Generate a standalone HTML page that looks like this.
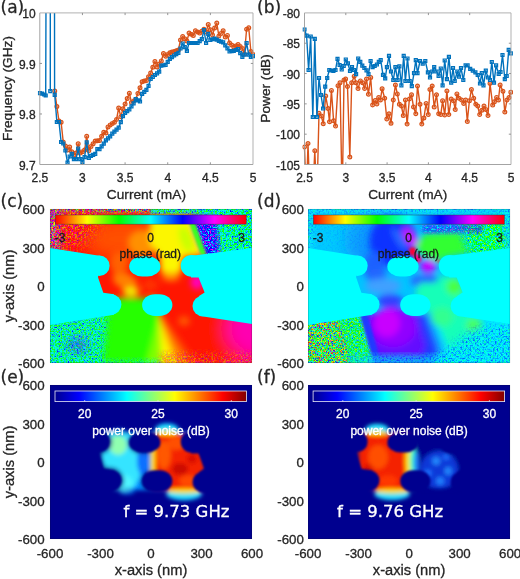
<!DOCTYPE html>
<html><head><meta charset="utf-8"><title>Figure</title>
<style>
html,body{margin:0;padding:0;background:#fff;}
body{width:520px;height:579px;overflow:hidden;}
svg{display:block;}
text{stroke-width:0.3px;}
text.a{font-family:"Liberation Sans",Arial,Helvetica,sans-serif;}
text.d{font-family:"DejaVu Sans",Verdana,"Liberation Sans",sans-serif;}
</style></head><body>
<svg width="520" height="579" viewBox="0 0 520 579"><defs>
<clipPath id="ca"><rect x="37.8" y="12.9" width="217.2" height="151.6"/></clipPath>
<clipPath id="cb"><rect x="302.5" y="12.9" width="210.5" height="151.6"/></clipPath>

<clipPath id="cp"><rect x="0" y="0" width="202" height="154"/></clipPath>
<linearGradient id="ghsv" x1="0" x2="1" y1="0" y2="0">
<stop offset="0" stop-color="#ff0000"/><stop offset="0.1667" stop-color="#ffff00"/><stop offset="0.3333" stop-color="#00ff00"/>
<stop offset="0.5" stop-color="#00ffff"/><stop offset="0.6667" stop-color="#0000ff"/><stop offset="0.8333" stop-color="#ff00ff"/><stop offset="1" stop-color="#ff0000"/>
</linearGradient>
<linearGradient id="gjet" x1="0" x2="1" y1="0" y2="0">
<stop offset="0" stop-color="#00008f"/><stop offset="0.125" stop-color="#0000ff"/><stop offset="0.375" stop-color="#00ffff"/>
<stop offset="0.625" stop-color="#ffff00"/><stop offset="0.875" stop-color="#ff0000"/><stop offset="1" stop-color="#800000"/>
</linearGradient>
<filter id="b1" x="-20%" y="-20%" width="140%" height="140%"><feGaussianBlur stdDeviation="1"/></filter>
<filter id="b15" x="-20%" y="-20%" width="140%" height="140%"><feGaussianBlur stdDeviation="1.5"/></filter>
<filter id="b2" x="-20%" y="-20%" width="140%" height="140%"><feGaussianBlur stdDeviation="2"/></filter>
<filter id="b3" x="-20%" y="-20%" width="140%" height="140%"><feGaussianBlur stdDeviation="3"/></filter>
<filter id="b4" x="-20%" y="-20%" width="140%" height="140%"><feGaussianBlur stdDeviation="4"/></filter>
<filter id="b5" x="-20%" y="-20%" width="140%" height="140%"><feGaussianBlur stdDeviation="5"/></filter>
<filter id="b8" x="-30%" y="-30%" width="160%" height="160%"><feGaussianBlur stdDeviation="8"/></filter>
<g id="geom"><g id="gL"><path d="M-2,38.7L51,47L48,68.3L53.3,83.7L64,85.2L64,105.8L-2,116.2Z"/><circle cx="49.4" cy="56.8" r="10.2"/><circle cx="61.2" cy="95.5" r="10.2"/></g><g id="gR"><path d="M204,38.8L140,47L141,68.4L148.6,68.6L154.6,83.5L149,87L150,107L204,115.3Z"/><circle cx="141.6" cy="56.8" r="10.9"/><circle cx="152.8" cy="97" r="10.3"/></g><g id="gH"><rect x="79.2" y="47.3" width="31.2" height="20.2" rx="13" ry="10.1"/><rect x="92.1" y="85.2" width="30.3" height="21.7" rx="13" ry="10.8"/></g></g>
<filter id="nzfull" x="0" y="0" width="1" height="1" filterUnits="objectBoundingBox" color-interpolation-filters="sRGB"><feTurbulence type="fractalNoise" baseFrequency="0.55" numOctaves="1" seed="2"/><feColorMatrix type="matrix" values="0.9434 0 0 0 0.0283  0.9434 0 0 0 0.0283  0.9434 0 0 0 0.0283  0 0 0 0 1"/><feComponentTransfer><feFuncR type="table" tableValues="1 1 0 0 0 1 1 1 0 0 0 1 1 1 0 0 0 1 1"/><feFuncG type="table" tableValues="0 1 1 1 0 0 0 1 1 1 0 0 0 1 1 1 0 0 0"/><feFuncB type="table" tableValues="0 0 0 1 1 1 0 0 0 1 1 1 0 0 0 1 1 1 0"/></feComponentTransfer></filter><filter id="nzcg" x="0" y="0" width="1" height="1" filterUnits="objectBoundingBox" color-interpolation-filters="sRGB"><feTurbulence type="fractalNoise" baseFrequency="0.55" numOctaves="1" seed="5"/><feColorMatrix type="matrix" values="0.2673 0 0 0 0.3497  0.2673 0 0 0 0.3497  0.2673 0 0 0 0.3497  0 0 0 0 1"/><feComponentTransfer><feFuncR type="table" tableValues="1 1 0 0 0 1 1 1 0 0 0 1 1 1 0 0 0 1 1"/><feFuncG type="table" tableValues="0 1 1 1 0 0 0 1 1 1 0 0 0 1 1 1 0 0 0"/><feFuncB type="table" tableValues="0 0 0 1 1 1 0 0 0 1 1 1 0 0 0 1 1 1 0"/></feComponentTransfer></filter><filter id="nzcb" x="0" y="0" width="1" height="1" filterUnits="objectBoundingBox" color-interpolation-filters="sRGB"><feTurbulence type="fractalNoise" baseFrequency="0.55" numOctaves="1" seed="9"/><feColorMatrix type="matrix" values="0.1195 0 0 0 0.4469  0.1195 0 0 0 0.4469  0.1195 0 0 0 0.4469  0 0 0 0 1"/><feComponentTransfer><feFuncR type="table" tableValues="1 1 0 0 0 1 1 1 0 0 0 1 1 1 0 0 0 1 1"/><feFuncG type="table" tableValues="0 1 1 1 0 0 0 1 1 1 0 0 0 1 1 1 0 0 0"/><feFuncB type="table" tableValues="0 0 0 1 1 1 0 0 0 1 1 1 0 0 0 1 1 1 0"/></feComponentTransfer></filter><filter id="nzbp" x="0" y="0" width="1" height="1" filterUnits="objectBoundingBox" color-interpolation-filters="sRGB"><feTurbulence type="fractalNoise" baseFrequency="0.55" numOctaves="1" seed="7"/><feColorMatrix type="matrix" values="0.2673 0 0 0 0.423  0.2673 0 0 0 0.423  0.2673 0 0 0 0.423  0 0 0 0 1"/><feComponentTransfer><feFuncR type="table" tableValues="1 1 0 0 0 1 1 1 0 0 0 1 1 1 0 0 0 1 1"/><feFuncG type="table" tableValues="0 1 1 1 0 0 0 1 1 1 0 0 0 1 1 1 0 0 0"/><feFuncB type="table" tableValues="0 0 0 1 1 1 0 0 0 1 1 1 0 0 0 1 1 1 0"/></feComponentTransfer></filter><filter id="nzyg" x="0" y="0" width="1" height="1" filterUnits="objectBoundingBox" color-interpolation-filters="sRGB"><feTurbulence type="fractalNoise" baseFrequency="0.55" numOctaves="1" seed="13"/><feColorMatrix type="matrix" values="0.283 0 0 0 0.3252  0.283 0 0 0 0.3252  0.283 0 0 0 0.3252  0 0 0 0 1"/><feComponentTransfer><feFuncR type="table" tableValues="1 1 0 0 0 1 1 1 0 0 0 1 1 1 0 0 0 1 1"/><feFuncG type="table" tableValues="0 1 1 1 0 0 0 1 1 1 0 0 0 1 1 1 0 0 0"/><feFuncB type="table" tableValues="0 0 0 1 1 1 0 0 0 1 1 1 0 0 0 1 1 1 0"/></feComponentTransfer></filter><filter id="nzred" x="0" y="0" width="1" height="1" filterUnits="objectBoundingBox" color-interpolation-filters="sRGB"><feTurbulence type="fractalNoise" baseFrequency="0.55" numOctaves="1" seed="4"/><feColorMatrix type="matrix" values="0.2201 0 0 0 0.2233  0.2201 0 0 0 0.2233  0.2201 0 0 0 0.2233  0 0 0 0 1"/><feComponentTransfer><feFuncR type="table" tableValues="1 1 0 0 0 1 1 1 0 0 0 1 1 1 0 0 0 1 1"/><feFuncG type="table" tableValues="0 1 1 1 0 0 0 1 1 1 0 0 0 1 1 1 0 0 0"/><feFuncB type="table" tableValues="0 0 0 1 1 1 0 0 0 1 1 1 0 0 0 1 1 1 0"/></feComponentTransfer></filter><filter id="nzredw" x="0" y="0" width="1" height="1" filterUnits="objectBoundingBox" color-interpolation-filters="sRGB"><feTurbulence type="fractalNoise" baseFrequency="0.55" numOctaves="1" seed="4"/><feColorMatrix type="matrix" values="0.4403 0 0 0 0.1132  0.4403 0 0 0 0.1132  0.4403 0 0 0 0.1132  0 0 0 0 1"/><feComponentTransfer><feFuncR type="table" tableValues="1 1 0 0 0 1 1 1 0 0 0 1 1 1 0 0 0 1 1"/><feFuncG type="table" tableValues="0 1 1 1 0 0 0 1 1 1 0 0 0 1 1 1 0 0 0"/><feFuncB type="table" tableValues="0 0 0 1 1 1 0 0 0 1 1 1 0 0 0 1 1 1 0"/></feComponentTransfer></filter><filter id="nzgw" x="0" y="0" width="1" height="1" filterUnits="objectBoundingBox" color-interpolation-filters="sRGB"><feTurbulence type="fractalNoise" baseFrequency="0.55" numOctaves="1" seed="21"/><feColorMatrix type="matrix" values="0.6289 0 0 0 0.1389  0.6289 0 0 0 0.1389  0.6289 0 0 0 0.1389  0 0 0 0 1"/><feComponentTransfer><feFuncR type="table" tableValues="1 1 0 0 0 1 1 1 0 0 0 1 1 1 0 0 0 1 1"/><feFuncG type="table" tableValues="0 1 1 1 0 0 0 1 1 1 0 0 0 1 1 1 0 0 0"/><feFuncB type="table" tableValues="0 0 0 1 1 1 0 0 0 1 1 1 0 0 0 1 1 1 0"/></feComponentTransfer></filter><filter id="nzpw" x="0" y="0" width="1" height="1" filterUnits="objectBoundingBox" color-interpolation-filters="sRGB"><feTurbulence type="fractalNoise" baseFrequency="0.55" numOctaves="1" seed="17"/><feColorMatrix type="matrix" values="0.6918 0 0 0 0.2474  0.6918 0 0 0 0.2474  0.6918 0 0 0 0.2474  0 0 0 0 1"/><feComponentTransfer><feFuncR type="table" tableValues="1 1 0 0 0 1 1 1 0 0 0 1 1 1 0 0 0 1 1"/><feFuncG type="table" tableValues="0 1 1 1 0 0 0 1 1 1 0 0 0 1 1 1 0 0 0"/><feFuncB type="table" tableValues="0 0 0 1 1 1 0 0 0 1 1 1 0 0 0 1 1 1 0"/></feComponentTransfer></filter>
</defs>
<rect x="39.8" y="12.9" width="213.2" height="151.6" fill="#fff" stroke="none"/>
<g clip-path="url(#ca)"><path d="M54.72,91 L56.86,106.5 L58.99,121 L61.12,122.2 L63.25,142 L65.38,146 L67.52,150 L69.65,147.1 L71.78,151.8 L73.91,155 L76.04,153 L78.18,143.7 L80.31,153 L82.44,151.8 L84.57,150 L86.7,136.3 L88.84,150.5 L90.97,146.4 L93.1,143.7 L95.23,141 L97.36,140.7 L99.5,140.4 L101.63,136.35 L103.76,132.3 L105.89,133 L108.02,126.9 L110.16,124.9 L112.29,123.55 L114.42,122.2 L116.55,119.5 L118.68,108 L120.82,116.8 L122.95,108.7 L125.08,104 L127.21,98.6 L129.34,93.2 L131.48,102.6 L133.61,100.9 L135.74,99.2 L137.87,93.5 L140,87.8 L142.14,81.7 L144.27,81.05 L146.4,80.4 L148.53,76.7 L150.66,73 L152.8,67.25 L154.93,61.5 L157.06,67 L159.19,63.95 L161.32,60.9 L163.46,53.5 L165.59,56.2 L167.72,54.5 L169.85,52.8 L171.98,52.1 L174.12,51.4 L176.25,50.75 L178.38,50.1 L180.51,40 L182.64,36.5 L184.78,38.75 L186.91,41 L189.04,33.1 L191.17,34.25 L193.3,35.4 L195.44,30.8 L197.57,31.95 L199.7,33.1 L201.83,31.15 L203.96,29.2 L206.1,32 L208.23,24.6 L210.36,29.8 L212.49,35 L214.62,28 L216.76,23.1 L218.89,36 L221.02,33.4 L223.15,30.8 L225.28,37 L227.42,35.4 L229.55,43 L231.68,45 L233.81,47 L235.94,45.8 L238.08,44.6 L240.21,46.55 L242.34,48.5 L244.47,54 L246.6,29.2 L248.74,27.7 L250.87,51.5 L253,54.6" fill="none" stroke="#D95319" stroke-width="1.4" stroke-linejoin="round"/><path d="M52.82,91a1.9,1.9 0 1,0 3.8,0a1.9,1.9 0 1,0 -3.8,0M54.96,106.5a1.9,1.9 0 1,0 3.8,0a1.9,1.9 0 1,0 -3.8,0M57.09,121a1.9,1.9 0 1,0 3.8,0a1.9,1.9 0 1,0 -3.8,0M59.22,122.2a1.9,1.9 0 1,0 3.8,0a1.9,1.9 0 1,0 -3.8,0M61.35,142a1.9,1.9 0 1,0 3.8,0a1.9,1.9 0 1,0 -3.8,0M63.48,146a1.9,1.9 0 1,0 3.8,0a1.9,1.9 0 1,0 -3.8,0M65.62,150a1.9,1.9 0 1,0 3.8,0a1.9,1.9 0 1,0 -3.8,0M67.75,147.1a1.9,1.9 0 1,0 3.8,0a1.9,1.9 0 1,0 -3.8,0M69.88,151.8a1.9,1.9 0 1,0 3.8,0a1.9,1.9 0 1,0 -3.8,0M72.01,155a1.9,1.9 0 1,0 3.8,0a1.9,1.9 0 1,0 -3.8,0M74.14,153a1.9,1.9 0 1,0 3.8,0a1.9,1.9 0 1,0 -3.8,0M76.28,143.7a1.9,1.9 0 1,0 3.8,0a1.9,1.9 0 1,0 -3.8,0M78.41,153a1.9,1.9 0 1,0 3.8,0a1.9,1.9 0 1,0 -3.8,0M80.54,151.8a1.9,1.9 0 1,0 3.8,0a1.9,1.9 0 1,0 -3.8,0M82.67,150a1.9,1.9 0 1,0 3.8,0a1.9,1.9 0 1,0 -3.8,0M84.8,136.3a1.9,1.9 0 1,0 3.8,0a1.9,1.9 0 1,0 -3.8,0M86.94,150.5a1.9,1.9 0 1,0 3.8,0a1.9,1.9 0 1,0 -3.8,0M89.07,146.4a1.9,1.9 0 1,0 3.8,0a1.9,1.9 0 1,0 -3.8,0M91.2,143.7a1.9,1.9 0 1,0 3.8,0a1.9,1.9 0 1,0 -3.8,0M93.33,141a1.9,1.9 0 1,0 3.8,0a1.9,1.9 0 1,0 -3.8,0M95.46,140.7a1.9,1.9 0 1,0 3.8,0a1.9,1.9 0 1,0 -3.8,0M97.6,140.4a1.9,1.9 0 1,0 3.8,0a1.9,1.9 0 1,0 -3.8,0M99.73,136.35a1.9,1.9 0 1,0 3.8,0a1.9,1.9 0 1,0 -3.8,0M101.86,132.3a1.9,1.9 0 1,0 3.8,0a1.9,1.9 0 1,0 -3.8,0M103.99,133a1.9,1.9 0 1,0 3.8,0a1.9,1.9 0 1,0 -3.8,0M106.12,126.9a1.9,1.9 0 1,0 3.8,0a1.9,1.9 0 1,0 -3.8,0M108.26,124.9a1.9,1.9 0 1,0 3.8,0a1.9,1.9 0 1,0 -3.8,0M110.39,123.55a1.9,1.9 0 1,0 3.8,0a1.9,1.9 0 1,0 -3.8,0M112.52,122.2a1.9,1.9 0 1,0 3.8,0a1.9,1.9 0 1,0 -3.8,0M114.65,119.5a1.9,1.9 0 1,0 3.8,0a1.9,1.9 0 1,0 -3.8,0M116.78,108a1.9,1.9 0 1,0 3.8,0a1.9,1.9 0 1,0 -3.8,0M118.92,116.8a1.9,1.9 0 1,0 3.8,0a1.9,1.9 0 1,0 -3.8,0M121.05,108.7a1.9,1.9 0 1,0 3.8,0a1.9,1.9 0 1,0 -3.8,0M123.18,104a1.9,1.9 0 1,0 3.8,0a1.9,1.9 0 1,0 -3.8,0M125.31,98.6a1.9,1.9 0 1,0 3.8,0a1.9,1.9 0 1,0 -3.8,0M127.44,93.2a1.9,1.9 0 1,0 3.8,0a1.9,1.9 0 1,0 -3.8,0M129.58,102.6a1.9,1.9 0 1,0 3.8,0a1.9,1.9 0 1,0 -3.8,0M131.71,100.9a1.9,1.9 0 1,0 3.8,0a1.9,1.9 0 1,0 -3.8,0M133.84,99.2a1.9,1.9 0 1,0 3.8,0a1.9,1.9 0 1,0 -3.8,0M135.97,93.5a1.9,1.9 0 1,0 3.8,0a1.9,1.9 0 1,0 -3.8,0M138.1,87.8a1.9,1.9 0 1,0 3.8,0a1.9,1.9 0 1,0 -3.8,0M140.24,81.7a1.9,1.9 0 1,0 3.8,0a1.9,1.9 0 1,0 -3.8,0M142.37,81.05a1.9,1.9 0 1,0 3.8,0a1.9,1.9 0 1,0 -3.8,0M144.5,80.4a1.9,1.9 0 1,0 3.8,0a1.9,1.9 0 1,0 -3.8,0M146.63,76.7a1.9,1.9 0 1,0 3.8,0a1.9,1.9 0 1,0 -3.8,0M148.76,73a1.9,1.9 0 1,0 3.8,0a1.9,1.9 0 1,0 -3.8,0M150.9,67.25a1.9,1.9 0 1,0 3.8,0a1.9,1.9 0 1,0 -3.8,0M153.03,61.5a1.9,1.9 0 1,0 3.8,0a1.9,1.9 0 1,0 -3.8,0M155.16,67a1.9,1.9 0 1,0 3.8,0a1.9,1.9 0 1,0 -3.8,0M157.29,63.95a1.9,1.9 0 1,0 3.8,0a1.9,1.9 0 1,0 -3.8,0M159.42,60.9a1.9,1.9 0 1,0 3.8,0a1.9,1.9 0 1,0 -3.8,0M161.56,53.5a1.9,1.9 0 1,0 3.8,0a1.9,1.9 0 1,0 -3.8,0M163.69,56.2a1.9,1.9 0 1,0 3.8,0a1.9,1.9 0 1,0 -3.8,0M165.82,54.5a1.9,1.9 0 1,0 3.8,0a1.9,1.9 0 1,0 -3.8,0M167.95,52.8a1.9,1.9 0 1,0 3.8,0a1.9,1.9 0 1,0 -3.8,0M170.08,52.1a1.9,1.9 0 1,0 3.8,0a1.9,1.9 0 1,0 -3.8,0M172.22,51.4a1.9,1.9 0 1,0 3.8,0a1.9,1.9 0 1,0 -3.8,0M174.35,50.75a1.9,1.9 0 1,0 3.8,0a1.9,1.9 0 1,0 -3.8,0M176.48,50.1a1.9,1.9 0 1,0 3.8,0a1.9,1.9 0 1,0 -3.8,0M178.61,40a1.9,1.9 0 1,0 3.8,0a1.9,1.9 0 1,0 -3.8,0M180.74,36.5a1.9,1.9 0 1,0 3.8,0a1.9,1.9 0 1,0 -3.8,0M182.88,38.75a1.9,1.9 0 1,0 3.8,0a1.9,1.9 0 1,0 -3.8,0M185.01,41a1.9,1.9 0 1,0 3.8,0a1.9,1.9 0 1,0 -3.8,0M187.14,33.1a1.9,1.9 0 1,0 3.8,0a1.9,1.9 0 1,0 -3.8,0M189.27,34.25a1.9,1.9 0 1,0 3.8,0a1.9,1.9 0 1,0 -3.8,0M191.4,35.4a1.9,1.9 0 1,0 3.8,0a1.9,1.9 0 1,0 -3.8,0M193.54,30.8a1.9,1.9 0 1,0 3.8,0a1.9,1.9 0 1,0 -3.8,0M195.67,31.95a1.9,1.9 0 1,0 3.8,0a1.9,1.9 0 1,0 -3.8,0M197.8,33.1a1.9,1.9 0 1,0 3.8,0a1.9,1.9 0 1,0 -3.8,0M199.93,31.15a1.9,1.9 0 1,0 3.8,0a1.9,1.9 0 1,0 -3.8,0M202.06,29.2a1.9,1.9 0 1,0 3.8,0a1.9,1.9 0 1,0 -3.8,0M204.2,32a1.9,1.9 0 1,0 3.8,0a1.9,1.9 0 1,0 -3.8,0M206.33,24.6a1.9,1.9 0 1,0 3.8,0a1.9,1.9 0 1,0 -3.8,0M208.46,29.8a1.9,1.9 0 1,0 3.8,0a1.9,1.9 0 1,0 -3.8,0M210.59,35a1.9,1.9 0 1,0 3.8,0a1.9,1.9 0 1,0 -3.8,0M212.72,28a1.9,1.9 0 1,0 3.8,0a1.9,1.9 0 1,0 -3.8,0M214.86,23.1a1.9,1.9 0 1,0 3.8,0a1.9,1.9 0 1,0 -3.8,0M216.99,36a1.9,1.9 0 1,0 3.8,0a1.9,1.9 0 1,0 -3.8,0M219.12,33.4a1.9,1.9 0 1,0 3.8,0a1.9,1.9 0 1,0 -3.8,0M221.25,30.8a1.9,1.9 0 1,0 3.8,0a1.9,1.9 0 1,0 -3.8,0M223.38,37a1.9,1.9 0 1,0 3.8,0a1.9,1.9 0 1,0 -3.8,0M225.52,35.4a1.9,1.9 0 1,0 3.8,0a1.9,1.9 0 1,0 -3.8,0M227.65,43a1.9,1.9 0 1,0 3.8,0a1.9,1.9 0 1,0 -3.8,0M229.78,45a1.9,1.9 0 1,0 3.8,0a1.9,1.9 0 1,0 -3.8,0M231.91,47a1.9,1.9 0 1,0 3.8,0a1.9,1.9 0 1,0 -3.8,0M234.04,45.8a1.9,1.9 0 1,0 3.8,0a1.9,1.9 0 1,0 -3.8,0M236.18,44.6a1.9,1.9 0 1,0 3.8,0a1.9,1.9 0 1,0 -3.8,0M238.31,46.55a1.9,1.9 0 1,0 3.8,0a1.9,1.9 0 1,0 -3.8,0M240.44,48.5a1.9,1.9 0 1,0 3.8,0a1.9,1.9 0 1,0 -3.8,0M242.57,54a1.9,1.9 0 1,0 3.8,0a1.9,1.9 0 1,0 -3.8,0M244.7,29.2a1.9,1.9 0 1,0 3.8,0a1.9,1.9 0 1,0 -3.8,0M246.84,27.7a1.9,1.9 0 1,0 3.8,0a1.9,1.9 0 1,0 -3.8,0M248.97,51.5a1.9,1.9 0 1,0 3.8,0a1.9,1.9 0 1,0 -3.8,0M251.1,54.6a1.9,1.9 0 1,0 3.8,0a1.9,1.9 0 1,0 -3.8,0" fill="#D95319" fill-opacity="0.3" stroke="#D95319" stroke-width="1.2"/></g>
<g clip-path="url(#ca)"><path d="M54.72,94.8 L56.86,122 L58.99,122 L61.12,142 L63.25,143.5 L65.38,150.5 L67.52,162.6 L69.65,156.5 L71.78,153.8 L73.91,159.2 L76.04,159.2 L78.18,148.5 L80.31,159.2 L82.44,161.9 L84.57,157.2 L86.7,142.4 L88.84,157.9 L90.97,155.9 L93.1,154.85 L95.23,153.8 L97.36,149.1 L99.5,149.1 L101.63,146.4 L103.76,143.7 L105.89,140.4 L108.02,138.35 L110.16,136.3 L112.29,133.6 L114.42,131.6 L116.55,129.6 L118.68,127.6 L120.82,122.2 L122.95,116.2 L125.08,112.8 L127.21,111.05 L129.34,109.3 L131.48,106.3 L133.61,103.3 L135.74,99.2 L137.87,100.35 L140,101.5 L142.14,93.8 L144.27,91.8 L146.4,89.8 L148.53,85.8 L150.66,79 L152.8,77 L154.93,75 L157.06,73.3 L159.19,71.6 L161.32,65.6 L163.46,65.25 L165.59,64.9 L167.72,61.85 L169.85,58.8 L171.98,57.15 L174.12,55.5 L176.25,54.15 L178.38,52.8 L180.51,48.5 L182.64,43.5 L184.78,47.15 L186.91,50.8 L189.04,43 L191.17,43 L193.3,43 L195.44,43 L197.57,43 L199.7,41.1 L201.83,39.2 L203.96,30 L206.1,43 L208.23,33.8 L210.36,40 L212.49,39.25 L214.62,38.5 L216.76,39.65 L218.89,40.8 L221.02,41.55 L223.15,42.3 L225.28,45.4 L227.42,48.45 L229.55,51.5 L231.68,51.15 L233.81,50.8 L235.94,50 L238.08,49.2 L240.21,53.05 L242.34,56.9 L244.47,54.6 L246.6,43 L248.74,54.6 L250.87,56.9 L253,56.2" fill="none" stroke="#0072BD" stroke-width="1.4" stroke-linejoin="round"/><path d="M39.8,93.2L42,93.7L44.2,94.5L45.7,95.5L46,0M50.3,0V91.2M54.5,0L54.6,94.8" fill="none" stroke="#0072BD" stroke-width="1.4"/><path d="M38.3,91.7h3v3h-3zM40.5,92.2h3v3h-3zM42.7,93h3v3h-3zM44.2,94h3v3h-3zM48.8,89.7h3v3h-3z" fill="#0072BD" fill-opacity="0.3" stroke="#0072BD" stroke-width="1.2"/><path d="M53.22,93.3h3v3h-3zM55.36,120.5h3v3h-3zM57.49,120.5h3v3h-3zM59.62,140.5h3v3h-3zM61.75,142h3v3h-3zM63.88,149h3v3h-3zM66.02,161.1h3v3h-3zM68.15,155h3v3h-3zM70.28,152.3h3v3h-3zM72.41,157.7h3v3h-3zM74.54,157.7h3v3h-3zM76.68,147h3v3h-3zM78.81,157.7h3v3h-3zM80.94,160.4h3v3h-3zM83.07,155.7h3v3h-3zM85.2,140.9h3v3h-3zM87.34,156.4h3v3h-3zM89.47,154.4h3v3h-3zM91.6,153.35h3v3h-3zM93.73,152.3h3v3h-3zM95.86,147.6h3v3h-3zM98,147.6h3v3h-3zM100.13,144.9h3v3h-3zM102.26,142.2h3v3h-3zM104.39,138.9h3v3h-3zM106.52,136.85h3v3h-3zM108.66,134.8h3v3h-3zM110.79,132.1h3v3h-3zM112.92,130.1h3v3h-3zM115.05,128.1h3v3h-3zM117.18,126.1h3v3h-3zM119.32,120.7h3v3h-3zM121.45,114.7h3v3h-3zM123.58,111.3h3v3h-3zM125.71,109.55h3v3h-3zM127.84,107.8h3v3h-3zM129.98,104.8h3v3h-3zM132.11,101.8h3v3h-3zM134.24,97.7h3v3h-3zM136.37,98.85h3v3h-3zM138.5,100h3v3h-3zM140.64,92.3h3v3h-3zM142.77,90.3h3v3h-3zM144.9,88.3h3v3h-3zM147.03,84.3h3v3h-3zM149.16,77.5h3v3h-3zM151.3,75.5h3v3h-3zM153.43,73.5h3v3h-3zM155.56,71.8h3v3h-3zM157.69,70.1h3v3h-3zM159.82,64.1h3v3h-3zM161.96,63.75h3v3h-3zM164.09,63.4h3v3h-3zM166.22,60.35h3v3h-3zM168.35,57.3h3v3h-3zM170.48,55.65h3v3h-3zM172.62,54h3v3h-3zM174.75,52.65h3v3h-3zM176.88,51.3h3v3h-3zM179.01,47h3v3h-3zM181.14,42h3v3h-3zM183.28,45.65h3v3h-3zM185.41,49.3h3v3h-3zM187.54,41.5h3v3h-3zM189.67,41.5h3v3h-3zM191.8,41.5h3v3h-3zM193.94,41.5h3v3h-3zM196.07,41.5h3v3h-3zM198.2,39.6h3v3h-3zM200.33,37.7h3v3h-3zM202.46,28.5h3v3h-3zM204.6,41.5h3v3h-3zM206.73,32.3h3v3h-3zM208.86,38.5h3v3h-3zM210.99,37.75h3v3h-3zM213.12,37h3v3h-3zM215.26,38.15h3v3h-3zM217.39,39.3h3v3h-3zM219.52,40.05h3v3h-3zM221.65,40.8h3v3h-3zM223.78,43.9h3v3h-3zM225.92,46.95h3v3h-3zM228.05,50h3v3h-3zM230.18,49.65h3v3h-3zM232.31,49.3h3v3h-3zM234.44,48.5h3v3h-3zM236.58,47.7h3v3h-3zM238.71,51.55h3v3h-3zM240.84,55.4h3v3h-3zM242.97,53.1h3v3h-3zM245.1,41.5h3v3h-3zM247.24,53.1h3v3h-3zM249.37,55.4h3v3h-3zM251.5,54.7h3v3h-3z" fill="#0072BD" fill-opacity="0.3" stroke="#0072BD" stroke-width="1.2"/></g>
<path d="M39.8,12.9V164.5H253" fill="none" stroke="#9a9a9a" stroke-width="0.9"/><path d="M39.8,12.9H253V164.5" fill="none" stroke="#a8a8a8" stroke-width="0.9"/><path d="M82.44,164.5v-2.2M82.44,12.9v2.2M125.08,164.5v-2.2M125.08,12.9v2.2M167.72,164.5v-2.2M167.72,12.9v2.2M210.36,164.5v-2.2M210.36,12.9v2.2M39.8,63.43h2.2M253,63.43h-2.2M39.8,113.97h2.2M253,113.97h-2.2" fill="none" stroke="#8a8a8a" stroke-width="0.9"/>
<text x="39.8" y="182.3" font-size="12" text-anchor="middle" fill="#262626" stroke="#262626" class="a">2.5</text>
<text x="82.44" y="182.3" font-size="12" text-anchor="middle" fill="#262626" stroke="#262626" class="a">3</text>
<text x="125.08" y="182.3" font-size="12" text-anchor="middle" fill="#262626" stroke="#262626" class="a">3.5</text>
<text x="167.72" y="182.3" font-size="12" text-anchor="middle" fill="#262626" stroke="#262626" class="a">4</text>
<text x="210.36" y="182.3" font-size="12" text-anchor="middle" fill="#262626" stroke="#262626" class="a">4.5</text>
<text x="253" y="182.3" font-size="12" text-anchor="middle" fill="#262626" stroke="#262626" class="a">5</text>
<text x="35.6" y="18.1" font-size="12" text-anchor="end" fill="#262626" stroke="#262626" class="a">10</text>
<text x="35.6" y="68.63" font-size="12" text-anchor="end" fill="#262626" stroke="#262626" class="a">9.9</text>
<text x="35.6" y="119.17" font-size="12" text-anchor="end" fill="#262626" stroke="#262626" class="a">9.8</text>
<text x="35.6" y="169.7" font-size="12" text-anchor="end" fill="#262626" stroke="#262626" class="a">9.7</text>
<text x="146.4" y="199.4" font-size="13.7" text-anchor="middle" fill="#262626" stroke="#262626" class="a">Current (mA)</text>
<text x="12.4" y="88.5" font-size="13.7" text-anchor="middle" fill="#262626" stroke="#262626" class="a" transform="rotate(-90 12.4 88.5)">Frequency (GHz)</text>
<text x="0.5" y="12.9" font-size="17" text-anchor="start" fill="#262626" stroke="#262626" class="d">(a)</text>
<rect x="304.5" y="12.9" width="206.5" height="151.6" fill="#fff" stroke="none"/>
<g clip-path="url(#cb)"><path d="M304.5,147 L306.3,200 L308,143.6 L310,200 L312.5,200 L314.8,150.8 L316.9,200 L319,113.2 L321.3,116 L323.2,123.7 L325.7,96.1 L328,108.5 L329.5,121.8 L331.4,90.4 L333.6,120.8 L335.5,126.1 L338,85.7 L340,82.8 L342.2,200 L344,80 L345.6,79 L347.5,86.6 L349.8,157 L351.7,82.8 L354.2,76.2 L356,82.8 L358,88.5 L360.4,80.9 L362.7,82.8 L364.6,88.5 L366.5,79 L368.4,94.2 L370.7,77.5 L372.6,105 L375.2,100.5 L376.9,104 L378.7,97.6 L380.4,100 L382.1,88.7 L384.7,98.2 L386.8,119 L389,113.8 L391,123.3 L393.3,100 L395.4,85 L397.3,93.9 L399.4,104.3 L401.4,106 L403.3,115.5 L405.4,100 L407.1,124.1 L409.4,99 L411.5,94.8 L413.5,106.9 L415.8,113.8 L417.5,86.1 L420,104.3 L421.8,124.1 L423.9,118 L426.1,103.4 L428.2,114.6 L429.9,89.6 L432.2,86.1 L434.2,106.9 L436.5,94.8 L438.7,113.8 L440.8,114.6 L442.6,100.8 L444.7,115 L446.9,91 L448.8,114.6 L451.2,99 L453.5,100.8 L455.2,109.4 L456.9,93.9 L459,98.2 L461.6,100 L463.7,103.4 L465.6,100 L467.3,121.5 L469.4,100.8 L471.4,89.6 L473.7,98.2 L475.8,104.3 L477.7,106 L479.7,114.6 L481.8,110.3 L484,106 L485.8,109.4 L488,115.5 L490,83.5 L492.7,105.1 L494.4,101.7 L496.6,97.4 L498.4,100 L500.1,85 L503,91.3 L504.8,112 L507,100 L509,97.4 L510.8,92.2" fill="none" stroke="#D95319" stroke-width="1.4" stroke-linejoin="round"/><path d="M302.6,147a1.9,1.9 0 1,0 3.8,0a1.9,1.9 0 1,0 -3.8,0M304.4,200a1.9,1.9 0 1,0 3.8,0a1.9,1.9 0 1,0 -3.8,0M306.1,143.6a1.9,1.9 0 1,0 3.8,0a1.9,1.9 0 1,0 -3.8,0M308.1,200a1.9,1.9 0 1,0 3.8,0a1.9,1.9 0 1,0 -3.8,0M310.6,200a1.9,1.9 0 1,0 3.8,0a1.9,1.9 0 1,0 -3.8,0M312.9,150.8a1.9,1.9 0 1,0 3.8,0a1.9,1.9 0 1,0 -3.8,0M315,200a1.9,1.9 0 1,0 3.8,0a1.9,1.9 0 1,0 -3.8,0M317.1,113.2a1.9,1.9 0 1,0 3.8,0a1.9,1.9 0 1,0 -3.8,0M319.4,116a1.9,1.9 0 1,0 3.8,0a1.9,1.9 0 1,0 -3.8,0M321.3,123.7a1.9,1.9 0 1,0 3.8,0a1.9,1.9 0 1,0 -3.8,0M323.8,96.1a1.9,1.9 0 1,0 3.8,0a1.9,1.9 0 1,0 -3.8,0M326.1,108.5a1.9,1.9 0 1,0 3.8,0a1.9,1.9 0 1,0 -3.8,0M327.6,121.8a1.9,1.9 0 1,0 3.8,0a1.9,1.9 0 1,0 -3.8,0M329.5,90.4a1.9,1.9 0 1,0 3.8,0a1.9,1.9 0 1,0 -3.8,0M331.7,120.8a1.9,1.9 0 1,0 3.8,0a1.9,1.9 0 1,0 -3.8,0M333.6,126.1a1.9,1.9 0 1,0 3.8,0a1.9,1.9 0 1,0 -3.8,0M336.1,85.7a1.9,1.9 0 1,0 3.8,0a1.9,1.9 0 1,0 -3.8,0M338.1,82.8a1.9,1.9 0 1,0 3.8,0a1.9,1.9 0 1,0 -3.8,0M340.3,200a1.9,1.9 0 1,0 3.8,0a1.9,1.9 0 1,0 -3.8,0M342.1,80a1.9,1.9 0 1,0 3.8,0a1.9,1.9 0 1,0 -3.8,0M343.7,79a1.9,1.9 0 1,0 3.8,0a1.9,1.9 0 1,0 -3.8,0M345.6,86.6a1.9,1.9 0 1,0 3.8,0a1.9,1.9 0 1,0 -3.8,0M347.9,157a1.9,1.9 0 1,0 3.8,0a1.9,1.9 0 1,0 -3.8,0M349.8,82.8a1.9,1.9 0 1,0 3.8,0a1.9,1.9 0 1,0 -3.8,0M352.3,76.2a1.9,1.9 0 1,0 3.8,0a1.9,1.9 0 1,0 -3.8,0M354.1,82.8a1.9,1.9 0 1,0 3.8,0a1.9,1.9 0 1,0 -3.8,0M356.1,88.5a1.9,1.9 0 1,0 3.8,0a1.9,1.9 0 1,0 -3.8,0M358.5,80.9a1.9,1.9 0 1,0 3.8,0a1.9,1.9 0 1,0 -3.8,0M360.8,82.8a1.9,1.9 0 1,0 3.8,0a1.9,1.9 0 1,0 -3.8,0M362.7,88.5a1.9,1.9 0 1,0 3.8,0a1.9,1.9 0 1,0 -3.8,0M364.6,79a1.9,1.9 0 1,0 3.8,0a1.9,1.9 0 1,0 -3.8,0M366.5,94.2a1.9,1.9 0 1,0 3.8,0a1.9,1.9 0 1,0 -3.8,0M368.8,77.5a1.9,1.9 0 1,0 3.8,0a1.9,1.9 0 1,0 -3.8,0M370.7,105a1.9,1.9 0 1,0 3.8,0a1.9,1.9 0 1,0 -3.8,0M373.3,100.5a1.9,1.9 0 1,0 3.8,0a1.9,1.9 0 1,0 -3.8,0M375,104a1.9,1.9 0 1,0 3.8,0a1.9,1.9 0 1,0 -3.8,0M376.8,97.6a1.9,1.9 0 1,0 3.8,0a1.9,1.9 0 1,0 -3.8,0M378.5,100a1.9,1.9 0 1,0 3.8,0a1.9,1.9 0 1,0 -3.8,0M380.2,88.7a1.9,1.9 0 1,0 3.8,0a1.9,1.9 0 1,0 -3.8,0M382.8,98.2a1.9,1.9 0 1,0 3.8,0a1.9,1.9 0 1,0 -3.8,0M384.9,119a1.9,1.9 0 1,0 3.8,0a1.9,1.9 0 1,0 -3.8,0M387.1,113.8a1.9,1.9 0 1,0 3.8,0a1.9,1.9 0 1,0 -3.8,0M389.1,123.3a1.9,1.9 0 1,0 3.8,0a1.9,1.9 0 1,0 -3.8,0M391.4,100a1.9,1.9 0 1,0 3.8,0a1.9,1.9 0 1,0 -3.8,0M393.5,85a1.9,1.9 0 1,0 3.8,0a1.9,1.9 0 1,0 -3.8,0M395.4,93.9a1.9,1.9 0 1,0 3.8,0a1.9,1.9 0 1,0 -3.8,0M397.5,104.3a1.9,1.9 0 1,0 3.8,0a1.9,1.9 0 1,0 -3.8,0M399.5,106a1.9,1.9 0 1,0 3.8,0a1.9,1.9 0 1,0 -3.8,0M401.4,115.5a1.9,1.9 0 1,0 3.8,0a1.9,1.9 0 1,0 -3.8,0M403.5,100a1.9,1.9 0 1,0 3.8,0a1.9,1.9 0 1,0 -3.8,0M405.2,124.1a1.9,1.9 0 1,0 3.8,0a1.9,1.9 0 1,0 -3.8,0M407.5,99a1.9,1.9 0 1,0 3.8,0a1.9,1.9 0 1,0 -3.8,0M409.6,94.8a1.9,1.9 0 1,0 3.8,0a1.9,1.9 0 1,0 -3.8,0M411.6,106.9a1.9,1.9 0 1,0 3.8,0a1.9,1.9 0 1,0 -3.8,0M413.9,113.8a1.9,1.9 0 1,0 3.8,0a1.9,1.9 0 1,0 -3.8,0M415.6,86.1a1.9,1.9 0 1,0 3.8,0a1.9,1.9 0 1,0 -3.8,0M418.1,104.3a1.9,1.9 0 1,0 3.8,0a1.9,1.9 0 1,0 -3.8,0M419.9,124.1a1.9,1.9 0 1,0 3.8,0a1.9,1.9 0 1,0 -3.8,0M422,118a1.9,1.9 0 1,0 3.8,0a1.9,1.9 0 1,0 -3.8,0M424.2,103.4a1.9,1.9 0 1,0 3.8,0a1.9,1.9 0 1,0 -3.8,0M426.3,114.6a1.9,1.9 0 1,0 3.8,0a1.9,1.9 0 1,0 -3.8,0M428,89.6a1.9,1.9 0 1,0 3.8,0a1.9,1.9 0 1,0 -3.8,0M430.3,86.1a1.9,1.9 0 1,0 3.8,0a1.9,1.9 0 1,0 -3.8,0M432.3,106.9a1.9,1.9 0 1,0 3.8,0a1.9,1.9 0 1,0 -3.8,0M434.6,94.8a1.9,1.9 0 1,0 3.8,0a1.9,1.9 0 1,0 -3.8,0M436.8,113.8a1.9,1.9 0 1,0 3.8,0a1.9,1.9 0 1,0 -3.8,0M438.9,114.6a1.9,1.9 0 1,0 3.8,0a1.9,1.9 0 1,0 -3.8,0M440.7,100.8a1.9,1.9 0 1,0 3.8,0a1.9,1.9 0 1,0 -3.8,0M442.8,115a1.9,1.9 0 1,0 3.8,0a1.9,1.9 0 1,0 -3.8,0M445,91a1.9,1.9 0 1,0 3.8,0a1.9,1.9 0 1,0 -3.8,0M446.9,114.6a1.9,1.9 0 1,0 3.8,0a1.9,1.9 0 1,0 -3.8,0M449.3,99a1.9,1.9 0 1,0 3.8,0a1.9,1.9 0 1,0 -3.8,0M451.6,100.8a1.9,1.9 0 1,0 3.8,0a1.9,1.9 0 1,0 -3.8,0M453.3,109.4a1.9,1.9 0 1,0 3.8,0a1.9,1.9 0 1,0 -3.8,0M455,93.9a1.9,1.9 0 1,0 3.8,0a1.9,1.9 0 1,0 -3.8,0M457.1,98.2a1.9,1.9 0 1,0 3.8,0a1.9,1.9 0 1,0 -3.8,0M459.7,100a1.9,1.9 0 1,0 3.8,0a1.9,1.9 0 1,0 -3.8,0M461.8,103.4a1.9,1.9 0 1,0 3.8,0a1.9,1.9 0 1,0 -3.8,0M463.7,100a1.9,1.9 0 1,0 3.8,0a1.9,1.9 0 1,0 -3.8,0M465.4,121.5a1.9,1.9 0 1,0 3.8,0a1.9,1.9 0 1,0 -3.8,0M467.5,100.8a1.9,1.9 0 1,0 3.8,0a1.9,1.9 0 1,0 -3.8,0M469.5,89.6a1.9,1.9 0 1,0 3.8,0a1.9,1.9 0 1,0 -3.8,0M471.8,98.2a1.9,1.9 0 1,0 3.8,0a1.9,1.9 0 1,0 -3.8,0M473.9,104.3a1.9,1.9 0 1,0 3.8,0a1.9,1.9 0 1,0 -3.8,0M475.8,106a1.9,1.9 0 1,0 3.8,0a1.9,1.9 0 1,0 -3.8,0M477.8,114.6a1.9,1.9 0 1,0 3.8,0a1.9,1.9 0 1,0 -3.8,0M479.9,110.3a1.9,1.9 0 1,0 3.8,0a1.9,1.9 0 1,0 -3.8,0M482.1,106a1.9,1.9 0 1,0 3.8,0a1.9,1.9 0 1,0 -3.8,0M483.9,109.4a1.9,1.9 0 1,0 3.8,0a1.9,1.9 0 1,0 -3.8,0M486.1,115.5a1.9,1.9 0 1,0 3.8,0a1.9,1.9 0 1,0 -3.8,0M488.1,83.5a1.9,1.9 0 1,0 3.8,0a1.9,1.9 0 1,0 -3.8,0M490.8,105.1a1.9,1.9 0 1,0 3.8,0a1.9,1.9 0 1,0 -3.8,0M492.5,101.7a1.9,1.9 0 1,0 3.8,0a1.9,1.9 0 1,0 -3.8,0M494.7,97.4a1.9,1.9 0 1,0 3.8,0a1.9,1.9 0 1,0 -3.8,0M496.5,100a1.9,1.9 0 1,0 3.8,0a1.9,1.9 0 1,0 -3.8,0M498.2,85a1.9,1.9 0 1,0 3.8,0a1.9,1.9 0 1,0 -3.8,0M501.1,91.3a1.9,1.9 0 1,0 3.8,0a1.9,1.9 0 1,0 -3.8,0M502.9,112a1.9,1.9 0 1,0 3.8,0a1.9,1.9 0 1,0 -3.8,0M505.1,100a1.9,1.9 0 1,0 3.8,0a1.9,1.9 0 1,0 -3.8,0M507.1,97.4a1.9,1.9 0 1,0 3.8,0a1.9,1.9 0 1,0 -3.8,0M508.9,92.2a1.9,1.9 0 1,0 3.8,0a1.9,1.9 0 1,0 -3.8,0" fill="#D95319" fill-opacity="0.3" stroke="#D95319" stroke-width="1.2"/></g>
<g clip-path="url(#cb)"><path d="M304.5,29.5 L306.6,35.7 L308.6,70 L310.7,36.5 L312.8,117 L314.8,38.8 L316.9,117 L319,78 L321,95 L323.1,108.5 L325.2,86.6 L327.2,78 L329.3,70 L331.3,70.5 L333.4,71 L335.5,70 L337.5,58.8 L339.6,65 L341.7,69.5 L343.7,66 L345.8,59.5 L347.9,63.4 L350,71 L352,67 L354,70 L356.1,74.2 L358.2,58.5 L360.3,61.8 L362.3,65.7 L364.4,68 L366.5,70.3 L368.5,74.2 L370.6,61 L372.6,67.2 L374.7,66 L376.9,64.5 L378.8,61.8 L380.7,60.2 L383,74.9 L385.2,78.4 L386.9,67.1 L389,55.9 L391,71.5 L393.3,80 L395.4,67.1 L397.6,80 L399.4,66.3 L401.4,85.3 L403.7,55.9 L405.4,81 L407.5,58.5 L409.7,81 L411.8,86.1 L414,73.2 L415.8,60.2 L417.5,73.2 L420,61 L422.7,63.7 L425.3,61 L427.9,72.3 L430,77.5 L432.2,71.5 L434.2,67.1 L436.5,71.5 L438.6,75.8 L440.8,68.5 L442.6,85.3 L444.7,60.5 L446.9,79.2 L448.9,56.8 L451.2,82.7 L453,68 L454.7,81 L457.3,71.5 L459,76.6 L461,68 L463.3,80 L465.6,65.4 L467.6,65.4 L470.2,68.9 L472.8,70.6 L475.4,72.3 L477.7,75 L480,83.5 L481.8,73.2 L483.5,85.3 L485.8,70.6 L488,77.5 L490,80 L491.8,62 L494,82.7 L496.1,65.4 L498.7,74 L500.5,72 L502.5,55 L504.8,79.2 L506.7,76 L508.7,49.9 L510.8,53.3" fill="none" stroke="#0072BD" stroke-width="1.4" stroke-linejoin="round"/><path d="M303,28h3v3h-3zM305.1,34.2h3v3h-3zM307.1,68.5h3v3h-3zM309.2,35h3v3h-3zM311.3,115.5h3v3h-3zM313.3,37.3h3v3h-3zM315.4,115.5h3v3h-3zM317.5,76.5h3v3h-3zM319.5,93.5h3v3h-3zM321.6,107h3v3h-3zM323.7,85.1h3v3h-3zM325.7,76.5h3v3h-3zM327.8,68.5h3v3h-3zM329.8,69h3v3h-3zM331.9,69.5h3v3h-3zM334,68.5h3v3h-3zM336,57.3h3v3h-3zM338.1,63.5h3v3h-3zM340.2,68h3v3h-3zM342.2,64.5h3v3h-3zM344.3,58h3v3h-3zM346.4,61.9h3v3h-3zM348.5,69.5h3v3h-3zM350.5,65.5h3v3h-3zM352.5,68.5h3v3h-3zM354.6,72.7h3v3h-3zM356.7,57h3v3h-3zM358.8,60.3h3v3h-3zM360.8,64.2h3v3h-3zM362.9,66.5h3v3h-3zM365,68.8h3v3h-3zM367,72.7h3v3h-3zM369.1,59.5h3v3h-3zM371.1,65.7h3v3h-3zM373.2,64.5h3v3h-3zM375.4,63h3v3h-3zM377.3,60.3h3v3h-3zM379.2,58.7h3v3h-3zM381.5,73.4h3v3h-3zM383.7,76.9h3v3h-3zM385.4,65.6h3v3h-3zM387.5,54.4h3v3h-3zM389.5,70h3v3h-3zM391.8,78.5h3v3h-3zM393.9,65.6h3v3h-3zM396.1,78.5h3v3h-3zM397.9,64.8h3v3h-3zM399.9,83.8h3v3h-3zM402.2,54.4h3v3h-3zM403.9,79.5h3v3h-3zM406,57h3v3h-3zM408.2,79.5h3v3h-3zM410.3,84.6h3v3h-3zM412.5,71.7h3v3h-3zM414.3,58.7h3v3h-3zM416,71.7h3v3h-3zM418.5,59.5h3v3h-3zM421.2,62.2h3v3h-3zM423.8,59.5h3v3h-3zM426.4,70.8h3v3h-3zM428.5,76h3v3h-3zM430.7,70h3v3h-3zM432.7,65.6h3v3h-3zM435,70h3v3h-3zM437.1,74.3h3v3h-3zM439.3,67h3v3h-3zM441.1,83.8h3v3h-3zM443.2,59h3v3h-3zM445.4,77.7h3v3h-3zM447.4,55.3h3v3h-3zM449.7,81.2h3v3h-3zM451.5,66.5h3v3h-3zM453.2,79.5h3v3h-3zM455.8,70h3v3h-3zM457.5,75.1h3v3h-3zM459.5,66.5h3v3h-3zM461.8,78.5h3v3h-3zM464.1,63.9h3v3h-3zM466.1,63.9h3v3h-3zM468.7,67.4h3v3h-3zM471.3,69.1h3v3h-3zM473.9,70.8h3v3h-3zM476.2,73.5h3v3h-3zM478.5,82h3v3h-3zM480.3,71.7h3v3h-3zM482,83.8h3v3h-3zM484.3,69.1h3v3h-3zM486.5,76h3v3h-3zM488.5,78.5h3v3h-3zM490.3,60.5h3v3h-3zM492.5,81.2h3v3h-3zM494.6,63.9h3v3h-3zM497.2,72.5h3v3h-3zM499,70.5h3v3h-3zM501,53.5h3v3h-3zM503.3,77.7h3v3h-3zM505.2,74.5h3v3h-3zM507.2,48.4h3v3h-3zM509.3,51.8h3v3h-3z" fill="#0072BD" fill-opacity="0.3" stroke="#0072BD" stroke-width="1.2"/></g>
<path d="M304.5,12.9V164.5H511" fill="none" stroke="#9a9a9a" stroke-width="0.9"/><path d="M304.5,12.9H511V164.5" fill="none" stroke="#a8a8a8" stroke-width="0.9"/><path d="M345.8,164.5v-2.2M345.8,12.9v2.2M387.1,164.5v-2.2M387.1,12.9v2.2M428.4,164.5v-2.2M428.4,12.9v2.2M469.7,164.5v-2.2M469.7,12.9v2.2M304.5,43.22h2.2M511,43.22h-2.2M304.5,73.54h2.2M511,73.54h-2.2M304.5,103.86h2.2M511,103.86h-2.2M304.5,134.18h2.2M511,134.18h-2.2" fill="none" stroke="#8a8a8a" stroke-width="0.9"/>
<text x="304.5" y="182.3" font-size="12" text-anchor="middle" fill="#262626" stroke="#262626" class="a">2.5</text>
<text x="345.8" y="182.3" font-size="12" text-anchor="middle" fill="#262626" stroke="#262626" class="a">3</text>
<text x="387.1" y="182.3" font-size="12" text-anchor="middle" fill="#262626" stroke="#262626" class="a">3.5</text>
<text x="428.4" y="182.3" font-size="12" text-anchor="middle" fill="#262626" stroke="#262626" class="a">4</text>
<text x="469.7" y="182.3" font-size="12" text-anchor="middle" fill="#262626" stroke="#262626" class="a">4.5</text>
<text x="511" y="182.3" font-size="12" text-anchor="middle" fill="#262626" stroke="#262626" class="a">5</text>
<text x="300" y="18.1" font-size="12" text-anchor="end" fill="#262626" stroke="#262626" class="a">-80</text>
<text x="300" y="48.42" font-size="12" text-anchor="end" fill="#262626" stroke="#262626" class="a">-85</text>
<text x="300" y="78.74" font-size="12" text-anchor="end" fill="#262626" stroke="#262626" class="a">-90</text>
<text x="300" y="109.06" font-size="12" text-anchor="end" fill="#262626" stroke="#262626" class="a">-95</text>
<text x="300" y="139.38" font-size="12" text-anchor="end" fill="#262626" stroke="#262626" class="a">-100</text>
<text x="300" y="169.7" font-size="12" text-anchor="end" fill="#262626" stroke="#262626" class="a">-105</text>
<text x="407.75" y="199.4" font-size="13.7" text-anchor="middle" fill="#262626" stroke="#262626" class="a">Current (mA)</text>
<text x="270" y="88.5" font-size="13.7" text-anchor="middle" fill="#262626" stroke="#262626" class="a" transform="rotate(-90 270 88.5)">Power (dB)</text>
<text x="257" y="12.9" font-size="17" text-anchor="start" fill="#262626" stroke="#262626" class="d">(b)</text>
<g transform="translate(50,209)"><g clip-path="url(#cp)"><g filter="url(#b8)"><path d="M-10,-10H212V164H-10Z" fill="#ff1800"/><ellipse cx="72" cy="30" rx="36" ry="18" fill="#ff5000"/><ellipse cx="220" cy="120" rx="44" ry="32" fill="#ff00b0"/><ellipse cx="215" cy="160" rx="30" ry="14" fill="#ff1060"/></g><g filter="url(#b3)"><ellipse cx="92" cy="34" rx="14" ry="13" fill="#ff9000"/><path d="M100,6L139,6L153,46L133,48L131,64L111,64L110,48L100,34Z" fill="#fcf600"/><ellipse cx="136" cy="30" rx="6" ry="14" fill="#c8ff00" transform="rotate(-20 136 30)"/><path d="M146,-10H212V50H160Z" fill="#20e8b0"/><path d="M141,6L168,6L172,46L156,46Z" fill="#3040ff"/><ellipse cx="121" cy="68" rx="9" ry="4" fill="#ff9000"/><path d="M60,89L108,89L110,106L100,164H-10V118Z" fill="#28ff00"/><path d="M109,105L94,164L113,164Z" fill="#80ff00"/><path d="M109,104L112,164L129,164Z" fill="#fff400"/><path d="M110,104L129,164L141,164Z" fill="#ff9000"/><path d="M112,104L141,164L153,164Z" fill="#ff4800"/><ellipse cx="134" cy="112" rx="6" ry="5" fill="#ff5800"/><ellipse cx="75" cy="72" rx="13" ry="8" fill="#ff8000" transform="rotate(25 75 72)"/><ellipse cx="81" cy="83" rx="8" ry="4.5" fill="#f0f000"/><ellipse cx="147" cy="73" rx="6.5" ry="7.5" fill="#ff00c0"/><ellipse cx="69" cy="54" rx="9" ry="12" fill="#ff6000"/><ellipse cx="100" cy="76" rx="8" ry="6" fill="#ff3000"/></g><g filter="url(#b1)"><path d="M137,8L143,8L157,45L151,46Z" fill="#38ff20"/></g><mask id="mc1" maskUnits="userSpaceOnUse" x="-10" y="-10" width="222" height="174"><g filter="url(#b15)" fill="#fff"><path d="M143,6L168,6L173,46L157,46Z"/></g></mask><g mask="url(#mc1)" opacity="1"><rect x="0" y="0" width="202" height="154" filter="url(#nzbp)"/></g><mask id="mc2" maskUnits="userSpaceOnUse" x="-10" y="-10" width="222" height="174"><g filter="url(#b2)" fill="#fff"><path d="M166,0H210V46L170,48Z"/></g></mask><g mask="url(#mc2)" opacity="1"><rect x="0" y="0" width="202" height="154" filter="url(#nzcg)"/></g><mask id="mc2b" maskUnits="userSpaceOnUse" x="-10" y="-10" width="222" height="174"><g filter="url(#b1)" fill="#fff"><path d="M100,-4H210V5H100Z"/></g></mask><g mask="url(#mc2b)" opacity="0.9"><rect x="0" y="0" width="202" height="154" filter="url(#nzcg)"/></g><mask id="mc3" maskUnits="userSpaceOnUse" x="-10" y="-10" width="222" height="174"><g filter="url(#b3)" fill="#fff"><path d="M-8,-8H11V42H-8Z"/></g></mask><g mask="url(#mc3)" opacity="1"><rect x="0" y="0" width="202" height="154" filter="url(#nzpw)"/></g><mask id="mc3t" maskUnits="userSpaceOnUse" x="-10" y="-10" width="222" height="174"><g filter="url(#b2)" fill="#fff"><path d="M-8,-8H100V3H-8Z"/></g></mask><g mask="url(#mc3t)" opacity="1"><rect x="0" y="0" width="202" height="154" filter="url(#nzfull)"/></g><mask id="mc3b" maskUnits="userSpaceOnUse" x="-10" y="-10" width="222" height="174"><g filter="url(#b8)" fill="#fff"><path d="M-8,-8H60L40,24L24,44H-8Z"/></g></mask><g mask="url(#mc3b)" opacity="0.55"><rect x="0" y="0" width="202" height="154" filter="url(#nzredw)"/></g><g filter="url(#b4)"><path d="M-8,112L52,106L46,164H-8Z" fill="#20d8b0"/></g><mask id="mc4" maskUnits="userSpaceOnUse" x="-10" y="-10" width="222" height="174"><g filter="url(#b3)" fill="#fff"><path d="M-8,112L58,104L52,164H-8Z"/></g></mask><g mask="url(#mc4)" opacity="0.85"><rect x="0" y="0" width="202" height="154" filter="url(#nzcg)"/></g><mask id="mc4b" maskUnits="userSpaceOnUse" x="-10" y="-10" width="222" height="174"><g filter="url(#b5)" fill="#fff"><ellipse cx="28" cy="136" rx="10" ry="8"/></g></mask><g mask="url(#mc4b)" opacity="0.5"><rect x="0" y="0" width="202" height="154" filter="url(#nzbp)"/></g><mask id="mc5" maskUnits="userSpaceOnUse" x="-10" y="-10" width="222" height="174"><g filter="url(#b2)" fill="#fff"><path d="M40,150H110V160H40Z"/></g></mask><g mask="url(#mc5)" opacity="0.45"><rect x="0" y="0" width="202" height="154" filter="url(#nzcg)"/></g><mask id="mc6" maskUnits="userSpaceOnUse" x="-10" y="-10" width="222" height="174"><g filter="url(#b3)" fill="#fff"><path d="M110,144H210V160H110Z"/></g></mask><g mask="url(#mc6)" opacity="0.35"><rect x="0" y="0" width="202" height="154" filter="url(#nzredw)"/></g><use href="#geom" fill="#00ffff"/></g><rect x="0.25" y="0.25" width="201.5" height="153.5" fill="none" stroke="#101020" stroke-opacity="0.3" stroke-width="0.6"/><rect x="5.3" y="6" width="191" height="9.2" fill="url(#ghsv)" stroke="#3a2a2a" stroke-opacity="0.55" stroke-width="0.7"/><text x="10" y="32.6" font-size="12" text-anchor="middle" fill="#1a1a1a" stroke="#1a1a1a" class="a">-3</text><text x="100.5" y="32.6" font-size="12" text-anchor="middle" fill="#1a1a1a" stroke="#1a1a1a" class="a">0</text><text x="191.5" y="32.6" font-size="12" text-anchor="middle" fill="#1a1a1a" stroke="#1a1a1a" class="a">3</text><text x="100.3" y="48.6" font-size="12" text-anchor="middle" fill="#1a1a1a" stroke="#1a1a1a" class="a">phase (rad)</text></g><text x="44.6" y="214.2" font-size="13.3" text-anchor="end" fill="#262626" stroke="#262626" class="a">600</text><text x="44.6" y="252.7" font-size="13.3" text-anchor="end" fill="#262626" stroke="#262626" class="a">300</text><text x="44.6" y="291.2" font-size="13.3" text-anchor="end" fill="#262626" stroke="#262626" class="a">0</text><text x="44.6" y="329.7" font-size="13.3" text-anchor="end" fill="#262626" stroke="#262626" class="a">-300</text><text x="44.6" y="368.2" font-size="13.3" text-anchor="end" fill="#262626" stroke="#262626" class="a">-600</text><text x="13.9" y="286" font-size="14.7" text-anchor="middle" fill="#262626" stroke="#262626" class="a" transform="rotate(-90 13.9 286)">y-axis (nm)</text><text x="0.5" y="206.7" font-size="17" text-anchor="start" fill="#262626" stroke="#262626" class="d">(c)</text>
<g transform="translate(308.1,209)"><g clip-path="url(#cp)"><g filter="url(#b8)"><path d="M-10,-10H212V164H-10Z" fill="#00c4ff"/><path d="M118,96H212V164H118Z" fill="#00e4ff"/><ellipse cx="70" cy="30" rx="34" ry="30" fill="#0c90ff"/></g><g filter="url(#b3)"><ellipse cx="85" cy="32" rx="24" ry="26" fill="#0c30ff"/><ellipse cx="66" cy="58" rx="10" ry="16" fill="#1c60ff"/><ellipse cx="91" cy="30" rx="3" ry="13" fill="#2c70ff" transform="rotate(-30 91 30)"/><ellipse cx="103" cy="29" rx="5.5" ry="12" fill="#c818ff" transform="rotate(-35 103 29)"/><ellipse cx="75" cy="77" rx="18" ry="8" fill="#40a0ff"/><ellipse cx="69" cy="65" rx="10" ry="5" fill="#2468ff"/><ellipse cx="82" cy="92" rx="13" ry="7" fill="#3040ff"/><path d="M62,136L126,136L134,164H64Z" fill="#2030ff"/><path d="M52,104L114,104L120,128L113,148L65,148Z" fill="#6410ff"/><ellipse cx="85" cy="118" rx="23" ry="20" fill="#9000ff"/><ellipse cx="79" cy="114" rx="13" ry="14" fill="#c800ff"/><path d="M108,68L150,66L158,84L150,100L172,108L178,136L137,144L121,110L108,100Z" fill="#18ffb8"/><path d="M108,103L116,103L134,154L122,154Z" fill="#2038ff"/><path d="M116,103L121,103L141,154L134,154Z" fill="#0c90ff"/><path d="M121,103L125,103L147,154L141,154Z" fill="#00e0ff"/><ellipse cx="146" cy="78" rx="8" ry="8" fill="#48ff40"/><ellipse cx="134" cy="108" rx="11" ry="10" fill="#30ff90"/><ellipse cx="166" cy="117" rx="8" ry="7" fill="#50ff50"/><path d="M107,38L116,25L152,23L162,44L139,48L128,52L114,46Z" fill="#30ff30"/><ellipse cx="120" cy="57" rx="8.5" ry="7" fill="#c800ff"/><ellipse cx="120" cy="70" rx="11" ry="4" fill="#2050ff"/><ellipse cx="108" cy="72" rx="5" ry="6" fill="#2868ff"/></g><g filter="url(#b15)"><ellipse cx="104.5" cy="42.5" rx="3.6" ry="4.2" fill="#ff0030"/><ellipse cx="109.5" cy="49.5" rx="3.8" ry="4.5" fill="#ff0080" transform="rotate(-35 109.5 49.5)"/><circle cx="130.5" cy="52" r="1.6" fill="#ff2020"/></g><g filter="url(#b3)"><path d="M-8,108L48,101L62,164H-8Z" fill="#58d070"/></g><g filter="url(#b1)"><path d="M52,106L59,105L72,150L65,150Z" fill="#2438ff"/></g><mask id="md1" maskUnits="userSpaceOnUse" x="-10" y="-10" width="222" height="174"><g filter="url(#b3)" fill="#fff"><path d="M-8,108L46,101L58,164H-8Z"/></g></mask><g mask="url(#md1)" opacity="0.8"><rect x="0" y="0" width="202" height="154" filter="url(#nzgw)"/></g><mask id="md1b" maskUnits="userSpaceOnUse" x="-10" y="-10" width="222" height="174"><g filter="url(#b15)" fill="#fff"><path d="M30,108L51,105L64,150L44,160Z"/></g></mask><g mask="url(#md1b)" opacity="0.85"><rect x="0" y="0" width="202" height="154" filter="url(#nzyg)"/></g><mask id="md1c" maskUnits="userSpaceOnUse" x="-10" y="-10" width="222" height="174"><g filter="url(#b3)" fill="#fff"><path d="M40,146H140V160H40Z"/></g></mask><g mask="url(#md1c)" opacity="0.6"><rect x="0" y="0" width="202" height="154" filter="url(#nzcb)"/></g><mask id="md2" maskUnits="userSpaceOnUse" x="-10" y="-10" width="222" height="174"><g filter="url(#b4)" fill="#fff"><path d="M152,14L200,8L204,46L162,48Z"/></g></mask><g mask="url(#md2)" opacity="1"><rect x="0" y="0" width="202" height="154" filter="url(#nzyg)"/></g><mask id="md2b" maskUnits="userSpaceOnUse" x="-10" y="-10" width="222" height="174"><g filter="url(#b3)" fill="#fff"><path d="M192,0H210V44H200Z"/></g></mask><g mask="url(#md2b)" opacity="0.9"><rect x="0" y="0" width="202" height="154" filter="url(#nzcb)"/></g><mask id="md2c" maskUnits="userSpaceOnUse" x="-10" y="-10" width="222" height="174"><g filter="url(#b2)" fill="#fff"><path d="M114,15H175V24H114Z"/></g></mask><g mask="url(#md2c)" opacity="0.55"><rect x="0" y="0" width="202" height="154" filter="url(#nzbp)"/></g><mask id="md3" maskUnits="userSpaceOnUse" x="-10" y="-10" width="222" height="174"><g filter="url(#b5)" fill="#fff"><path d="M165,120L210,114V164H125V150Z"/></g></mask><g mask="url(#md3)" opacity="0.9"><rect x="0" y="0" width="202" height="154" filter="url(#nzcb)"/></g><mask id="md4" maskUnits="userSpaceOnUse" x="-10" y="-10" width="222" height="174"><g filter="url(#b3)" fill="#fff"><path d="M-8,-8H210V3H-8ZM-8,-8H4V40H-8Z"/></g></mask><g mask="url(#md4)" opacity="0.8"><rect x="0" y="0" width="202" height="154" filter="url(#nzcb)"/></g><mask id="md5" maskUnits="userSpaceOnUse" x="-10" y="-10" width="222" height="174"><g filter="url(#b8)" fill="#fff"><path d="M-8,-8H60V40H-8Z"/></g></mask><g mask="url(#md5)" opacity="0.15"><rect x="0" y="0" width="202" height="154" filter="url(#nzcb)"/></g><use href="#geom" fill="#00ffff"/></g><rect x="0.25" y="0.25" width="201.5" height="153.5" fill="none" stroke="#101020" stroke-opacity="0.3" stroke-width="0.6"/><rect x="5.3" y="6" width="191" height="9.2" fill="url(#ghsv)" stroke="#3a2a2a" stroke-opacity="0.55" stroke-width="0.7"/><text x="10" y="32.6" font-size="12" text-anchor="middle" fill="#1a1a1a" stroke="#1a1a1a" class="a">-3</text><text x="100.5" y="32.6" font-size="12" text-anchor="middle" fill="#1a1a1a" stroke="#1a1a1a" class="a">0</text><text x="191.5" y="32.6" font-size="12" text-anchor="middle" fill="#1a1a1a" stroke="#1a1a1a" class="a">3</text><text x="100.3" y="48.6" font-size="12" text-anchor="middle" fill="#1a1a1a" stroke="#1a1a1a" class="a">phase (rad)</text></g><text x="303.9" y="214.2" font-size="13.3" text-anchor="end" fill="#262626" stroke="#262626" class="a">600</text><text x="303.9" y="252.7" font-size="13.3" text-anchor="end" fill="#262626" stroke="#262626" class="a">300</text><text x="303.9" y="291.2" font-size="13.3" text-anchor="end" fill="#262626" stroke="#262626" class="a">0</text><text x="303.9" y="329.7" font-size="13.3" text-anchor="end" fill="#262626" stroke="#262626" class="a">-300</text><text x="303.9" y="368.2" font-size="13.3" text-anchor="end" fill="#262626" stroke="#262626" class="a">-600</text><text x="257" y="206.7" font-size="17" text-anchor="start" fill="#262626" stroke="#262626" class="d">(d)</text>
<g transform="translate(50,385)"><g clip-path="url(#cp)"><rect x="-2" y="-2" width="206" height="158" fill="#00008f"/><mask id="me" maskUnits="userSpaceOnUse" x="-10" y="-10" width="222" height="174"><g filter="url(#b2)"><path d="M49,47.5H147L155,84L151,105H64L51,84Z" fill="#fff"/><ellipse cx="117" cy="45" rx="12" ry="7" fill="#fff"/><ellipse cx="134" cy="108.5" rx="18" ry="7" fill="#fff"/><ellipse cx="77" cy="106" rx="8" ry="3.5" fill="#bbb"/><ellipse cx="69" cy="47" rx="8" ry="3" fill="#aaa"/></g><g filter="url(#b1)"><use href="#geom" fill="#000"/></g></mask><g mask="url(#me)"><g filter="url(#b2)"><path d="M-10,-10H212V164H-10Z" fill="#0090ff"/><ellipse cx="70" cy="76" rx="22" ry="34" fill="#34e4ff"/><ellipse cx="68" cy="60" rx="9" ry="10" fill="#90ffb0"/><ellipse cx="74" cy="98" rx="9" ry="8" fill="#50f6ff"/><ellipse cx="93" cy="76" rx="6" ry="14" fill="#1070ff"/><use href="#gL" fill="#00008f" stroke="#00008f" stroke-width="4.5"/><use href="#gH" fill="#00008f" stroke="#00008f" stroke-width="2.5"/><ellipse cx="117" cy="43.5" rx="15" ry="6" fill="#20e0ff"/><ellipse cx="134" cy="111" rx="21" ry="6.5" fill="#20e0ff"/><path d="M104,48.5H212V106H104Z" fill="#f42000"/><ellipse cx="117" cy="48" rx="11" ry="2.5" fill="#ffe000"/><ellipse cx="134" cy="106" rx="17" ry="2.5" fill="#ffe000"/><ellipse cx="103" cy="76" rx="2.5" ry="20" fill="#ffe000"/><ellipse cx="114" cy="70" rx="7" ry="14" fill="#ff5800"/><ellipse cx="126" cy="58" rx="9" ry="7" fill="#ff5000"/><ellipse cx="138" cy="96" rx="9" ry="6" fill="#ff4800"/><ellipse cx="130" cy="84" rx="8" ry="6" fill="#cc0800"/><ellipse cx="142" cy="74" rx="5" ry="5" fill="#d81000"/></g></g></g><rect x="0.25" y="0.25" width="201.5" height="153.5" fill="none" stroke="#101020" stroke-opacity="0.3" stroke-width="0.6"/><rect x="5" y="6" width="191.5" height="10.6" fill="url(#gjet)" stroke="#e8e8f4" stroke-width="0.8"/><path d="M34.7,16.6v-1.6M108,16.6v-1.6M181.3,16.6v-1.6" stroke="#e8e8f4" stroke-width="0.7"/><text x="34.7" y="32.7" font-size="12" text-anchor="middle" fill="#fff" stroke="#fff" class="a">20</text><text x="108" y="32.7" font-size="12" text-anchor="middle" fill="#fff" stroke="#fff" class="a">25</text><text x="181.3" y="32.7" font-size="12" text-anchor="middle" fill="#fff" stroke="#fff" class="a">30</text><text x="101" y="49.6" font-size="12" text-anchor="middle" fill="#fff" stroke="#fff" class="a">power over noise (dB)</text><text x="73.5" y="131.8" font-size="16.5" text-anchor="start" fill="#fff" stroke="#fff" class="d">f = 9.73 GHz</text></g><text x="44.6" y="390.2" font-size="13.3" text-anchor="end" fill="#262626" stroke="#262626" class="a">600</text><text x="44.6" y="428.7" font-size="13.3" text-anchor="end" fill="#262626" stroke="#262626" class="a">300</text><text x="44.6" y="467.2" font-size="13.3" text-anchor="end" fill="#262626" stroke="#262626" class="a">0</text><text x="44.6" y="505.7" font-size="13.3" text-anchor="end" fill="#262626" stroke="#262626" class="a">-300</text><text x="44.6" y="544.2" font-size="13.3" text-anchor="end" fill="#262626" stroke="#262626" class="a">-600</text><text x="50" y="557.6" font-size="13.3" text-anchor="middle" fill="#262626" stroke="#262626" class="a">-600</text><text x="100.5" y="557.6" font-size="13.3" text-anchor="middle" fill="#262626" stroke="#262626" class="a">-300</text><text x="151" y="557.6" font-size="13.3" text-anchor="middle" fill="#262626" stroke="#262626" class="a">0</text><text x="201.5" y="557.6" font-size="13.3" text-anchor="middle" fill="#262626" stroke="#262626" class="a">300</text><text x="252" y="557.6" font-size="13.3" text-anchor="middle" fill="#262626" stroke="#262626" class="a">600</text><text x="151" y="574.6" font-size="14.7" text-anchor="middle" fill="#262626" stroke="#262626" class="a">x-axis (nm)</text><text x="13.9" y="462" font-size="14.7" text-anchor="middle" fill="#262626" stroke="#262626" class="a" transform="rotate(-90 13.9 462)">y-axis (nm)</text><text x="0.5" y="382.7" font-size="17" text-anchor="start" fill="#262626" stroke="#262626" class="d">(e)</text>
<g transform="translate(308.1,385)"><g clip-path="url(#cp)"><rect x="-2" y="-2" width="206" height="158" fill="#00008f"/><mask id="mf" maskUnits="userSpaceOnUse" x="-10" y="-10" width="222" height="174"><g filter="url(#b2)"><path d="M49,47.5H147L155,84L151,105H64L51,84Z" fill="#fff"/><ellipse cx="69" cy="45" rx="12" ry="7" fill="#fff"/><ellipse cx="84" cy="108.5" rx="18" ry="7" fill="#fff"/></g><g filter="url(#b1)"><use href="#geom" fill="#000"/></g></mask><g mask="url(#mf)"><g filter="url(#b2)"><path d="M-10,-10H212V164H-10Z" fill="#00008f"/><ellipse cx="131" cy="85" rx="19" ry="19" fill="#0838d8"/><ellipse cx="128" cy="76" rx="4" ry="4" fill="#2488ff"/><ellipse cx="140" cy="86" rx="3.5" ry="4" fill="#2488ff"/><ellipse cx="132" cy="96" rx="4" ry="4" fill="#2080ff"/><ellipse cx="120" cy="88" rx="3.5" ry="3.5" fill="#1c70ff"/><ellipse cx="138" cy="72" rx="3" ry="3" fill="#1c70ff"/><ellipse cx="69" cy="43.5" rx="15" ry="6" fill="#20e0ff"/><ellipse cx="84" cy="111" rx="21" ry="6.5" fill="#20e0ff"/><path d="M30,48.5H100V106H30Z" fill="#f42000"/><ellipse cx="69" cy="48" rx="11" ry="2.5" fill="#ffe000"/><ellipse cx="84" cy="106" rx="17" ry="2.5" fill="#ffe000"/><ellipse cx="70" cy="72" rx="10" ry="12" fill="#ff5000"/><ellipse cx="80" cy="96" rx="10" ry="6" fill="#ff3800"/><ellipse cx="60" cy="84" rx="5" ry="5" fill="#d81000"/><ellipse cx="100" cy="76" rx="3" ry="18" fill="#ffe000"/><ellipse cx="104.5" cy="76" rx="3" ry="16" fill="#40ffc0"/><ellipse cx="108" cy="78" rx="2.5" ry="12" fill="#2080ff"/></g></g></g><rect x="0.25" y="0.25" width="201.5" height="153.5" fill="none" stroke="#101020" stroke-opacity="0.3" stroke-width="0.6"/><rect x="5" y="6" width="191.5" height="10.6" fill="url(#gjet)" stroke="#e8e8f4" stroke-width="0.8"/><path d="M34.7,16.6v-1.6M108,16.6v-1.6M181.3,16.6v-1.6" stroke="#e8e8f4" stroke-width="0.7"/><text x="34.7" y="32.7" font-size="12" text-anchor="middle" fill="#fff" stroke="#fff" class="a">20</text><text x="108" y="32.7" font-size="12" text-anchor="middle" fill="#fff" stroke="#fff" class="a">25</text><text x="181.3" y="32.7" font-size="12" text-anchor="middle" fill="#fff" stroke="#fff" class="a">30</text><text x="101" y="49.6" font-size="12" text-anchor="middle" fill="#fff" stroke="#fff" class="a">power over noise (dB)</text><text x="29" y="131.8" font-size="16.5" text-anchor="start" fill="#fff" stroke="#fff" class="d">f = 9.76 GHz</text></g><text x="303.9" y="390.2" font-size="13.3" text-anchor="end" fill="#262626" stroke="#262626" class="a">600</text><text x="303.9" y="428.7" font-size="13.3" text-anchor="end" fill="#262626" stroke="#262626" class="a">300</text><text x="303.9" y="467.2" font-size="13.3" text-anchor="end" fill="#262626" stroke="#262626" class="a">0</text><text x="303.9" y="505.7" font-size="13.3" text-anchor="end" fill="#262626" stroke="#262626" class="a">-300</text><text x="303.9" y="544.2" font-size="13.3" text-anchor="end" fill="#262626" stroke="#262626" class="a">-600</text><text x="308.1" y="557.6" font-size="13.3" text-anchor="middle" fill="#262626" stroke="#262626" class="a">-600</text><text x="358.6" y="557.6" font-size="13.3" text-anchor="middle" fill="#262626" stroke="#262626" class="a">-300</text><text x="409.1" y="557.6" font-size="13.3" text-anchor="middle" fill="#262626" stroke="#262626" class="a">0</text><text x="459.6" y="557.6" font-size="13.3" text-anchor="middle" fill="#262626" stroke="#262626" class="a">300</text><text x="510.1" y="557.6" font-size="13.3" text-anchor="middle" fill="#262626" stroke="#262626" class="a">600</text><text x="409.1" y="574.6" font-size="14.7" text-anchor="middle" fill="#262626" stroke="#262626" class="a">x-axis (nm)</text><text x="257" y="382.7" font-size="17" text-anchor="start" fill="#262626" stroke="#262626" class="d">(f)</text></svg>
</body></html>
